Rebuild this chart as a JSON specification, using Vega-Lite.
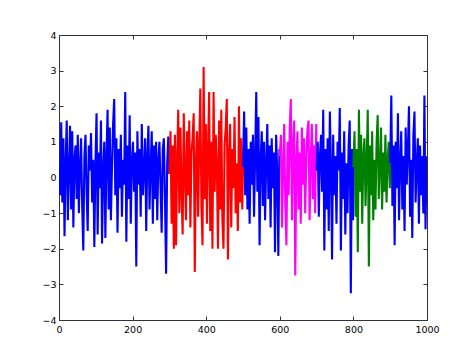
{
  "$schema": "https://vega.github.io/schema/vega-lite/v6.json",
  "width": 368,
  "height": 285,
  "autosize": {"type": "none"},
  "padding": {"left": 59, "top": 35, "right": 47, "bottom": 35},
  "background": "white",
  "config": {
    "view": {"stroke": "#333", "strokeWidth": 1},
    "axis": {"grid": false, "domain": false, "labelFont": "DejaVu Sans", "labelFontSize": 9.5, "labelColor": "#000", "tickColor": "#333", "tickSize": -4, "title": null}
  },
  "data": {"values": [
    {"x":0,"y":0.3,"s":"a"},{"x":3,"y":-0.5,"s":"a"},{"x":6,"y":1.55,"s":"a"},{"x":9,"y":-0.7,"s":"a"},{"x":12,"y":1.1,"s":"a"},{"x":15,"y":-1.65,"s":"a"},{"x":18,"y":0.4,"s":"a"},{"x":21,"y":1.6,"s":"a"},{"x":24,"y":-1.2,"s":"a"},{"x":27,"y":0.2,"s":"a"},
    {"x":30,"y":1.45,"s":"a"},{"x":33,"y":-0.9,"s":"a"},{"x":36,"y":1.3,"s":"a"},{"x":39,"y":-1.4,"s":"a"},{"x":42,"y":0.5,"s":"a"},{"x":45,"y":0.9,"s":"a"},{"x":48,"y":-0.6,"s":"a"},{"x":51,"y":1.2,"s":"a"},{"x":54,"y":-1.0,"s":"a"},{"x":57,"y":0.3,"s":"a"},
    {"x":60,"y":1.1,"s":"a"},{"x":63,"y":-0.8,"s":"a"},{"x":66,"y":-2.05,"s":"a"},{"x":69,"y":0.6,"s":"a"},{"x":72,"y":1.2,"s":"a"},{"x":75,"y":-0.4,"s":"a"},{"x":78,"y":-1.5,"s":"a"},{"x":81,"y":0.9,"s":"a"},{"x":84,"y":0.2,"s":"a"},{"x":87,"y":1.25,"s":"a"},
    {"x":90,"y":-0.7,"s":"a"},{"x":93,"y":0.5,"s":"a"},{"x":96,"y":-1.95,"s":"a"},{"x":99,"y":0.4,"s":"a"},{"x":102,"y":1.8,"s":"a"},{"x":105,"y":-1.6,"s":"a"},{"x":108,"y":0.7,"s":"a"},{"x":111,"y":-0.3,"s":"a"},{"x":114,"y":1.6,"s":"a"},{"x":117,"y":-1.85,"s":"a"},
    {"x":120,"y":0.2,"s":"a"},{"x":123,"y":1.0,"s":"a"},{"x":126,"y":-1.7,"s":"a"},{"x":129,"y":0.6,"s":"a"},{"x":132,"y":1.9,"s":"a"},{"x":135,"y":-0.9,"s":"a"},{"x":138,"y":1.4,"s":"a"},{"x":141,"y":-1.2,"s":"a"},{"x":144,"y":0.3,"s":"a"},{"x":147,"y":1.5,"s":"a"},
    {"x":150,"y":2.2,"s":"a"},{"x":153,"y":-0.5,"s":"a"},{"x":156,"y":1.1,"s":"a"},{"x":159,"y":-1.55,"s":"a"},{"x":162,"y":0.8,"s":"a"},{"x":165,"y":-0.3,"s":"a"},{"x":168,"y":1.2,"s":"a"},{"x":171,"y":-1.1,"s":"a"},{"x":174,"y":0.5,"s":"a"},{"x":177,"y":-0.2,"s":"a"},
    {"x":180,"y":2.4,"s":"a"},{"x":183,"y":-1.8,"s":"a"},{"x":186,"y":0.9,"s":"a"},{"x":189,"y":-0.6,"s":"a"},{"x":192,"y":1.75,"s":"a"},{"x":195,"y":-1.3,"s":"a"},{"x":198,"y":0.4,"s":"a"},{"x":201,"y":1.0,"s":"a"},{"x":204,"y":-0.4,"s":"a"},{"x":207,"y":0.7,"s":"a"},
    {"x":210,"y":-2.5,"s":"a"},{"x":213,"y":1.3,"s":"a"},{"x":216,"y":-0.2,"s":"a"},{"x":219,"y":0.8,"s":"a"},{"x":222,"y":-1.1,"s":"a"},{"x":225,"y":1.5,"s":"a"},{"x":228,"y":-0.5,"s":"a"},{"x":231,"y":0.2,"s":"a"},{"x":234,"y":1.1,"s":"a"},{"x":237,"y":-1.5,"s":"a"},
    {"x":240,"y":0.6,"s":"a"},{"x":243,"y":1.45,"s":"a"},{"x":246,"y":-0.9,"s":"a"},{"x":249,"y":0.3,"s":"a"},{"x":252,"y":1.3,"s":"a"},{"x":255,"y":-1.3,"s":"a"},{"x":258,"y":0.9,"s":"a"},{"x":261,"y":-0.6,"s":"a"},{"x":264,"y":1.0,"s":"a"},{"x":267,"y":-1.2,"s":"a"},
    {"x":270,"y":0.5,"s":"a"},{"x":273,"y":1.0,"s":"a"},{"x":276,"y":-0.3,"s":"a"},{"x":279,"y":-1.55,"s":"a"},{"x":282,"y":0.8,"s":"a"},{"x":285,"y":1.1,"s":"a"},{"x":288,"y":-0.6,"s":"a"},{"x":291,"y":-2.7,"s":"a"},{"x":294,"y":0.4,"s":"a"},{"x":297,"y":1.15,"s":"a"},
    {"x":300,"y":0.1,"s":"a"},
    {"x":300,"y":0.1,"s":"b"},{"x":303,"y":1.3,"s":"b"},{"x":306,"y":-1.3,"s":"b"},{"x":309,"y":0.9,"s":"b"},{"x":312,"y":-2.0,"s":"b"},{"x":315,"y":1.2,"s":"b"},{"x":318,"y":-1.9,"s":"b"},{"x":321,"y":0.5,"s":"b"},{"x":324,"y":1.9,"s":"b"},{"x":327,"y":-1.0,"s":"b"},
    {"x":330,"y":1.4,"s":"b"},{"x":333,"y":-0.4,"s":"b"},{"x":336,"y":-1.6,"s":"b"},{"x":339,"y":1.8,"s":"b"},{"x":342,"y":0.2,"s":"b"},{"x":345,"y":-1.2,"s":"b"},{"x":348,"y":1.3,"s":"b"},{"x":351,"y":-0.5,"s":"b"},{"x":354,"y":1.6,"s":"b"},{"x":357,"y":-1.4,"s":"b"},
    {"x":360,"y":0.7,"s":"b"},{"x":363,"y":1.1,"s":"b"},{"x":366,"y":1.8,"s":"b"},{"x":369,"y":-2.65,"s":"b"},{"x":372,"y":0.4,"s":"b"},{"x":375,"y":1.3,"s":"b"},{"x":378,"y":-1.1,"s":"b"},{"x":381,"y":0.9,"s":"b"},{"x":384,"y":2.5,"s":"b"},{"x":387,"y":-0.8,"s":"b"},
    {"x":390,"y":-1.9,"s":"b"},{"x":393,"y":3.1,"s":"b"},{"x":396,"y":-0.6,"s":"b"},{"x":399,"y":1.5,"s":"b"},{"x":402,"y":-1.3,"s":"b"},{"x":405,"y":0.8,"s":"b"},{"x":408,"y":2.4,"s":"b"},{"x":411,"y":-1.5,"s":"b"},{"x":414,"y":1.0,"s":"b"},{"x":417,"y":-2.0,"s":"b"},
    {"x":420,"y":2.4,"s":"b"},{"x":423,"y":-0.4,"s":"b"},{"x":426,"y":1.2,"s":"b"},{"x":429,"y":0.3,"s":"b"},{"x":432,"y":-2.0,"s":"b"},{"x":435,"y":1.6,"s":"b"},{"x":438,"y":-0.9,"s":"b"},{"x":441,"y":1.9,"s":"b"},{"x":444,"y":-1.2,"s":"b"},{"x":447,"y":-2.0,"s":"b"},
    {"x":450,"y":0.9,"s":"b"},{"x":453,"y":1.4,"s":"b"},{"x":456,"y":2.2,"s":"b"},{"x":459,"y":-2.3,"s":"b"},{"x":462,"y":0.6,"s":"b"},{"x":465,"y":1.5,"s":"b"},{"x":468,"y":-1.4,"s":"b"},{"x":471,"y":0.8,"s":"b"},{"x":474,"y":-0.3,"s":"b"},{"x":477,"y":1.7,"s":"b"},
    {"x":480,"y":-1.0,"s":"b"},{"x":483,"y":0.4,"s":"b"},{"x":486,"y":-1.5,"s":"b"},{"x":489,"y":2.0,"s":"b"},{"x":492,"y":-0.7,"s":"b"},{"x":495,"y":1.1,"s":"b"},{"x":498,"y":-0.9,"s":"b"},{"x":500,"y":0.3,"s":"b"},
    {"x":500,"y":0.3,"s":"c"},{"x":503,"y":1.85,"s":"c"},{"x":506,"y":-0.5,"s":"c"},{"x":509,"y":1.4,"s":"c"},{"x":512,"y":-0.9,"s":"c"},{"x":515,"y":0.8,"s":"c"},{"x":518,"y":-1.3,"s":"c"},{"x":521,"y":1.0,"s":"c"},{"x":524,"y":-0.2,"s":"c"},{"x":527,"y":1.2,"s":"c"},
    {"x":530,"y":-1.1,"s":"c"},{"x":533,"y":0.6,"s":"c"},{"x":536,"y":2.4,"s":"c"},{"x":539,"y":-0.4,"s":"c"},{"x":542,"y":1.7,"s":"c"},{"x":545,"y":-1.9,"s":"c"},{"x":548,"y":0.5,"s":"c"},{"x":551,"y":1.3,"s":"c"},{"x":554,"y":-0.8,"s":"c"},{"x":557,"y":1.0,"s":"c"},
    {"x":560,"y":-1.2,"s":"c"},{"x":563,"y":0.4,"s":"c"},{"x":566,"y":1.5,"s":"c"},{"x":569,"y":-0.6,"s":"c"},{"x":572,"y":0.9,"s":"c"},{"x":575,"y":-1.4,"s":"c"},{"x":578,"y":1.1,"s":"c"},{"x":581,"y":-0.3,"s":"c"},{"x":584,"y":0.7,"s":"c"},{"x":587,"y":-2.1,"s":"c"},
    {"x":590,"y":1.2,"s":"c"},{"x":593,"y":0.2,"s":"c"},{"x":596,"y":-2.2,"s":"c"},{"x":599,"y":0.8,"s":"c"},{"x":600,"y":0.6,"s":"c"},
    {"x":600,"y":0.6,"s":"d"},{"x":603,"y":1.2,"s":"d"},{"x":606,"y":-1.4,"s":"d"},{"x":609,"y":0.3,"s":"d"},{"x":612,"y":1.5,"s":"d"},{"x":615,"y":-0.8,"s":"d"},{"x":618,"y":-1.9,"s":"d"},{"x":621,"y":1.0,"s":"d"},{"x":624,"y":-0.5,"s":"d"},{"x":627,"y":1.4,"s":"d"},
    {"x":630,"y":2.2,"s":"d"},{"x":633,"y":-1.2,"s":"d"},{"x":636,"y":0.9,"s":"d"},{"x":639,"y":1.6,"s":"d"},{"x":642,"y":-2.75,"s":"d"},{"x":645,"y":0.4,"s":"d"},{"x":648,"y":1.3,"s":"d"},{"x":651,"y":-0.9,"s":"d"},{"x":654,"y":0.7,"s":"d"},{"x":657,"y":-1.3,"s":"d"},
    {"x":660,"y":1.4,"s":"d"},{"x":663,"y":-0.2,"s":"d"},{"x":666,"y":1.1,"s":"d"},{"x":669,"y":-1.0,"s":"d"},{"x":672,"y":0.5,"s":"d"},{"x":675,"y":1.3,"s":"d"},{"x":678,"y":1.6,"s":"d"},{"x":681,"y":-1.2,"s":"d"},{"x":684,"y":0.4,"s":"d"},{"x":687,"y":1.5,"s":"d"},
    {"x":690,"y":-0.6,"s":"d"},{"x":693,"y":0.9,"s":"d"},{"x":696,"y":-1.0,"s":"d"},{"x":699,"y":1.5,"s":"d"},{"x":700,"y":0.2,"s":"d"},
    {"x":700,"y":0.2,"s":"e"},{"x":703,"y":1.0,"s":"e"},{"x":706,"y":-1.1,"s":"e"},{"x":709,"y":0.6,"s":"e"},{"x":712,"y":1.2,"s":"e"},{"x":715,"y":-0.4,"s":"e"},{"x":718,"y":1.9,"s":"e"},{"x":721,"y":-2.05,"s":"e"},{"x":724,"y":0.8,"s":"e"},{"x":727,"y":-0.9,"s":"e"},
    {"x":730,"y":1.1,"s":"e"},{"x":733,"y":-1.5,"s":"e"},{"x":736,"y":1.85,"s":"e"},{"x":739,"y":0.3,"s":"e"},{"x":742,"y":-2.3,"s":"e"},{"x":745,"y":1.2,"s":"e"},{"x":748,"y":-0.5,"s":"e"},{"x":751,"y":0.6,"s":"e"},{"x":754,"y":-1.3,"s":"e"},{"x":757,"y":1.0,"s":"e"},
    {"x":760,"y":0.2,"s":"e"},{"x":763,"y":1.95,"s":"e"},{"x":766,"y":-2.05,"s":"e"},{"x":769,"y":0.7,"s":"e"},{"x":772,"y":-0.6,"s":"e"},{"x":775,"y":1.3,"s":"e"},{"x":778,"y":-1.6,"s":"e"},{"x":781,"y":0.4,"s":"e"},{"x":784,"y":-1.0,"s":"e"},{"x":787,"y":0.9,"s":"e"},
    {"x":790,"y":1.6,"s":"e"},{"x":793,"y":-3.25,"s":"e"},{"x":796,"y":0.8,"s":"e"},{"x":799,"y":-1.2,"s":"e"},{"x":800,"y":0.3,"s":"e"},
    {"x":800,"y":0.3,"s":"f"},{"x":803,"y":1.3,"s":"f"},{"x":806,"y":-1.1,"s":"f"},{"x":809,"y":0.8,"s":"f"},{"x":812,"y":-2.1,"s":"f"},{"x":815,"y":1.9,"s":"f"},{"x":818,"y":-0.4,"s":"f"},{"x":821,"y":1.2,"s":"f"},{"x":824,"y":-1.3,"s":"f"},{"x":827,"y":0.6,"s":"f"},
    {"x":830,"y":1.1,"s":"f"},{"x":833,"y":-0.8,"s":"f"},{"x":836,"y":0.4,"s":"f"},{"x":839,"y":1.9,"s":"f"},{"x":842,"y":-2.5,"s":"f"},{"x":845,"y":0.9,"s":"f"},{"x":848,"y":-0.5,"s":"f"},{"x":851,"y":1.3,"s":"f"},{"x":854,"y":-1.2,"s":"f"},{"x":857,"y":0.5,"s":"f"},
    {"x":860,"y":-0.9,"s":"f"},{"x":863,"y":1.0,"s":"f"},{"x":866,"y":1.75,"s":"f"},{"x":869,"y":-0.6,"s":"f"},{"x":872,"y":0.3,"s":"f"},{"x":875,"y":1.4,"s":"f"},{"x":878,"y":-0.9,"s":"f"},{"x":881,"y":0.7,"s":"f"},{"x":884,"y":-0.4,"s":"f"},{"x":887,"y":1.2,"s":"f"},
    {"x":890,"y":-0.7,"s":"f"},{"x":893,"y":0.5,"s":"f"},{"x":896,"y":1.0,"s":"f"},{"x":899,"y":-0.3,"s":"f"},{"x":900,"y":0.4,"s":"f"},
    {"x":900,"y":0.4,"s":"g"},{"x":903,"y":2.3,"s":"g"},{"x":906,"y":-0.8,"s":"g"},{"x":909,"y":0.9,"s":"g"},{"x":912,"y":-1.9,"s":"g"},{"x":915,"y":1.0,"s":"g"},{"x":918,"y":-0.3,"s":"g"},{"x":921,"y":1.8,"s":"g"},{"x":924,"y":-1.2,"s":"g"},{"x":927,"y":0.4,"s":"g"},
    {"x":930,"y":1.3,"s":"g"},{"x":933,"y":-0.9,"s":"g"},{"x":936,"y":0.6,"s":"g"},{"x":939,"y":-1.5,"s":"g"},{"x":942,"y":1.4,"s":"g"},{"x":945,"y":-0.2,"s":"g"},{"x":948,"y":0.8,"s":"g"},{"x":951,"y":2.0,"s":"g"},{"x":954,"y":-1.1,"s":"g"},{"x":957,"y":0.5,"s":"g"},
    {"x":960,"y":-1.7,"s":"g"},{"x":963,"y":1.2,"s":"g"},{"x":966,"y":1.85,"s":"g"},{"x":969,"y":-0.7,"s":"g"},{"x":972,"y":0.3,"s":"g"},{"x":975,"y":1.1,"s":"g"},{"x":978,"y":-1.3,"s":"g"},{"x":981,"y":0.9,"s":"g"},{"x":984,"y":-0.5,"s":"g"},{"x":987,"y":0.6,"s":"g"},
    {"x":990,"y":-1.0,"s":"g"},{"x":993,"y":2.3,"s":"g"},{"x":996,"y":-1.45,"s":"g"},{"x":999,"y":0.6,"s":"g"}
  ]},
  "layer": [
    {
      "mark": {"type": "line", "strokeWidth": 2.1, "clip": true},
      "encoding": {
        "x": {"field": "x", "type": "quantitative", "scale": {"domain": [0, 1000], "nice": false, "zero": false}, "axis": {"orient": "bottom", "values": [0, 200, 400, 600, 800, 1000], "format": "d", "labelPadding": 8, "labelFlush": false}},
        "y": {"field": "y", "type": "quantitative", "scale": {"domain": [-4, 4], "nice": false}, "axis": {"orient": "left", "values": [-4, -3, -2, -1, 0, 1, 2, 3, 4], "labelPadding": 7}},
        "color": {"field": "s", "type": "nominal", "legend": null, "scale": {"domain": ["a", "b", "c", "d", "e", "f", "g"], "range": ["#0000ff", "#ff0000", "#0000ff", "#ff00ff", "#0000ff", "#008000", "#0000ff"]}},
        "order": {"field": "x", "type": "quantitative"}
      }
    },
    {
      "mark": {"type": "line", "opacity": 0},
      "encoding": {
        "x": {"field": "x", "type": "quantitative", "scale": {"domain": [0, 1000], "nice": false, "zero": false}, "axis": {"orient": "top", "values": [0, 200, 400, 600, 800, 1000], "labels": false}},
        "y": {"field": "y", "type": "quantitative", "scale": {"domain": [-4, 4], "nice": false}, "axis": {"orient": "right", "values": [-4, -3, -2, -1, 0, 1, 2, 3, 4], "labels": false}},
        "detail": {"field": "s"}
      }
    }
  ],
  "resolve": {"axis": {"x": "independent", "y": "independent"}}
}
